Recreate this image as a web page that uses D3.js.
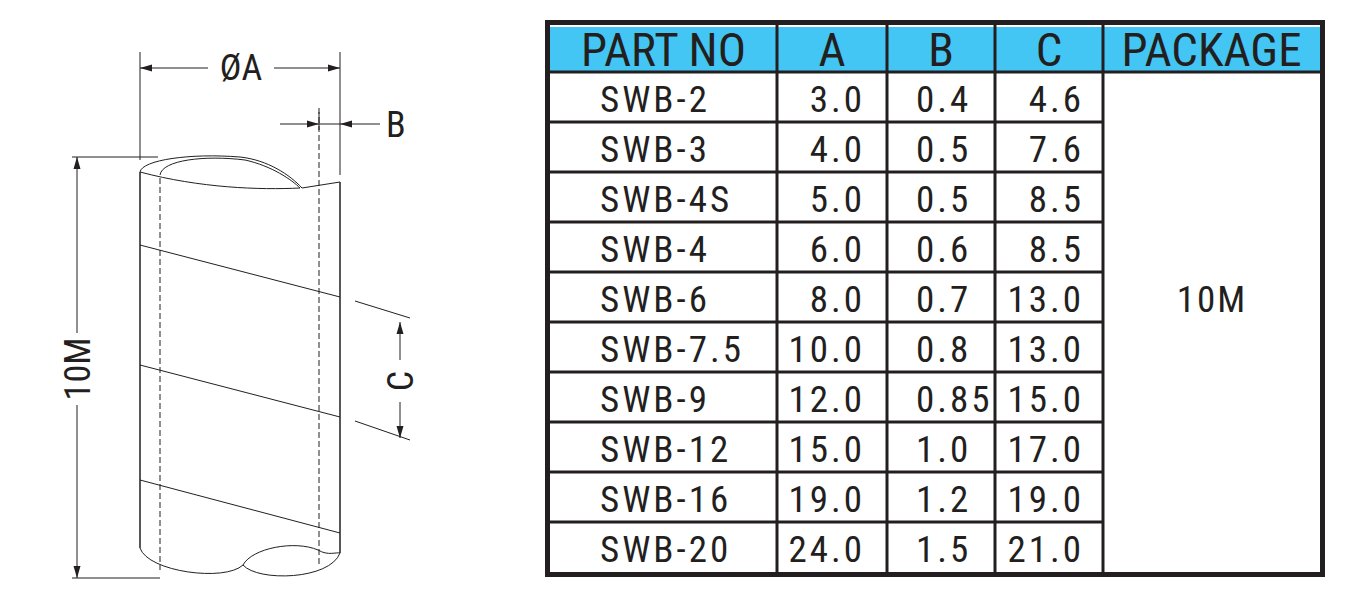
<!DOCTYPE html>
<html><head><meta charset="utf-8">
<script src="https://cdn.jsdelivr.net/npm/d3@7/dist/d3.min.js"></script>
<style>body{margin:0;background:#fff}</style></head>
<body><svg id="c" width="1351" height="603"></svg>
<script>
const headers = ["PART NO","A","B","C","PACKAGE"];
const partNo = ["SWB-2","SWB-3","SWB-4S","SWB-4","SWB-6","SWB-7.5","SWB-9","SWB-12","SWB-16","SWB-20"];
const colA = ["3.0","4.0","5.0","6.0","8.0","10.0","12.0","15.0","19.0","24.0"];
const colB = ["0.4","0.5","0.5","0.6","0.7","0.8","0.85","1.0","1.2","1.5"];
const colC = ["4.6","7.6","8.5","8.5","13.0","13.0","15.0","17.0","19.0","21.0"];
const packageLabel = "10M";

const svg = d3.select("#c");
const F = "'Liberation Sans Narrow','Roboto Condensed','Liberation Sans',sans-serif";

// ---- table ----
const colEdges = [550,777,887,995,1103,1320];
const x = d3.scaleLinear().domain([0,5]).range([550,1320]);
const y = d3.scaleLinear().domain([0,10]).range([72,572]);
const g = svg.append("g");
g.append("rect").attr("x",x(0)).attr("y",27).attr("width",x(5)-x(0)).attr("height",45).attr("fill","#44c6f4");
g.append("rect").attr("x",547.5).attr("y",22.5).attr("width",775).attr("height",552).attr("fill","none").attr("stroke","#231f20").attr("stroke-width",5);
g.append("line").attr("x1",550).attr("x2",1320).attr("y1",72).attr("y2",72).attr("stroke","#231f20").attr("stroke-width",3);
d3.range(1,10).forEach(i=>g.append("line").attr("x1",550).attr("x2",1103).attr("y1",y(i)).attr("y2",y(i)).attr("stroke","#231f20").attr("stroke-width",3));
colEdges.slice(1,5).forEach(cx=>g.append("line").attr("x1",cx).attr("x2",cx).attr("y1",25).attr("y2",572).attr("stroke","#231f20").attr("stroke-width",3));
headers.forEach((h,i)=>{
  g.append("text").attr("x",(colEdges[i]+colEdges[i+1])/2).attr("y",66).attr("text-anchor","middle")
   .attr("font-family",F).attr("font-size",47).attr("fill","#231f20").text(h);
});
function col(vals, xpos, anchor){
  vals.forEach((v,i)=>g.append("text").attr("x",xpos).attr("y",y(i)+40).attr("text-anchor",anchor)
    .attr("font-family",F).attr("font-size",37).attr("letter-spacing",3).attr("fill","#231f20").text(v));
}
col(partNo,600,"start");
col(colA,865,"end");
col(colB,916,"start");
col(colC,1084,"end");
g.append("text").attr("x",1212).attr("y",312).attr("text-anchor","middle").attr("font-family",F)
 .attr("font-size",37).attr("letter-spacing",2).attr("fill","#231f20").text(packageLabel);

// ---- drawing ----
const d = svg.append("g").attr("fill","none").attr("stroke","#231f20");
const ln=(x1,y1,x2,y2,w=1)=>d.append("line").attr("x1",x1).attr("y1",y1).attr("x2",x2).attr("y2",y2).attr("stroke-width",w);
ln(140,172,140,548,1.5); ln(340,182,340,553,1.5);
ln(160,178,160,570).attr("stroke-dasharray","6,3");
ln(319,108,319,566).attr("stroke-dasharray","6,3");
d.append("path").attr("stroke-width",1).attr("d","M140,172 C142,160 190,153 240,157 C268,160 290,175 302,188 L340,182");
d.append("path").attr("stroke-width",1).attr("d","M160,175 C162,160 205,155 245,160 C272,166 292,180 300,188 C260,190 200,188 140,172");
d.append("path").attr("stroke-width",1).attr("d","M140,548 C148,572 225,582 243,565 C258,582 330,580 340,553");
d.append("path").attr("stroke-width",1).attr("d","M243,565 C252,548 295,540 318,550 C328,556 336,552 340,553");
ln(140,245,340,297); ln(355,301,410,318);
ln(140,365,340,417); ln(355,421,410,440);
ln(140,480,340,533);
ln(140,52,140,160); ln(340,52,340,175);
ln(72,157,158,157); ln(72,578,160,578);
ln(319,112,319,130);
function arrow(x0,y0,ang){
  const L=12,W=3.5, c=Math.cos(ang), s=Math.sin(ang);
  d.append("path").attr("fill","#231f20").attr("stroke","none")
   .attr("d",`M${x0},${y0} L${x0-L*c-W*s},${y0-L*s+W*c} L${x0-L*c+W*s},${y0-L*s-W*c}Z`);
}
ln(140,68,208,68); ln(274,68,340,68);
arrow(140,68,Math.PI); arrow(340,68,0);
svg.append("text").attr("x",241).attr("y",80).attr("text-anchor","middle").attr("font-family",F).attr("font-size",36).attr("fill","#231f20").text("ØA");
ln(280,124,380,124); arrow(319,124,0); arrow(340,124,Math.PI);
svg.append("text").attr("x",386).attr("y",137).attr("font-family",F).attr("font-size",36).attr("fill","#231f20").text("B");
ln(77,157,77,333); ln(77,405,77,578);
arrow(77,157,-Math.PI/2); arrow(77,578,Math.PI/2);
svg.append("text").attr("transform","translate(90,369) rotate(-90)").attr("text-anchor","middle").attr("font-family",F).attr("font-size",36).attr("fill","#231f20").text("10M");
ln(400,322,400,360); ln(400,402,400,438);
arrow(400,322,-Math.PI/2); arrow(400,438,Math.PI/2);
svg.append("text").attr("transform","translate(413,381) rotate(-90)").attr("text-anchor","middle").attr("font-family",F).attr("font-size",36).attr("fill","#231f20").text("C");
</script></body></html>
